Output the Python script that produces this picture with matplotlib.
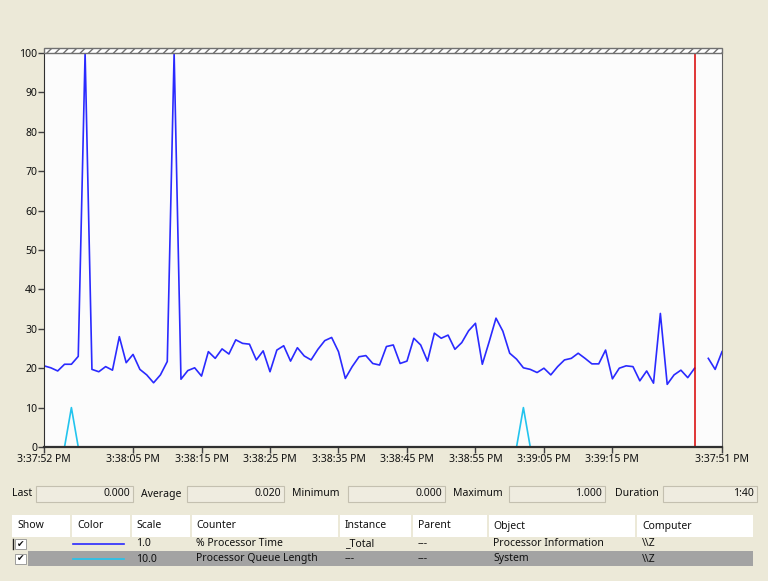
import numpy as np
import matplotlib.pyplot as plt
from matplotlib.patches import Rectangle

W, H = 768, 581

# % Processor Time, one sample per second (nan = gap after the "now" marker)
cpu_time = [20.6, 20.1, 19.3, 21.0, 21.0, 23.0, 100, 19.7, 19.1, 20.4,
            19.5, 28.0, 21.4, 23.5, 19.7, 18.3, 16.3, 18.3, 21.7, 100,
            17.2, 19.4, 20.1, 18.0, 24.2, 22.5, 24.9, 23.6, 27.2, 26.3,
            26.1, 22.1, 24.4, 19.1, 24.6, 25.7, 21.8, 25.2, 23.1, 22.1,
            24.8, 27.0, 27.8, 24.2, 17.4, 20.4, 22.9, 23.2, 21.2, 20.8,
            25.5, 25.9, 21.2, 21.8, 27.6, 25.9, 21.8, 28.9, 27.6, 28.4,
            24.8, 26.5, 29.5, 31.4, 21.0, 26.7, 32.7, 29.4, 23.8, 22.3,
            20.1, 19.7, 18.9, 20.0, 18.3, 20.4, 22.1, 22.5, 23.8, 22.5,
            21.1, 21.1, 24.6, 17.3, 20.0, 20.6, 20.4, 16.8, 19.3, 16.2,
            33.9, 15.9, 18.3, 19.5, 17.6, 20.0, np.nan, 22.5, 19.7, 24.2]

# Processor Queue Length
queue_len = [0] * 100
queue_len[4] = 1
queue_len[70] = 1
queue_len[96] = np.nan

now_idx = 95
tick_pos = [0, 13, 23, 33, 43, 53, 63, 73, 83, 99]
tick_labels = ["3:37:52 PM", "3:38:05 PM", "3:38:15 PM", "3:38:25 PM", "3:38:35 PM",
               "3:38:45 PM", "3:38:55 PM", "3:39:05 PM", "3:39:15 PM", "3:37:51 PM"]

stat_names = ["Last", "Average", "Minimum", "Maximum", "Duration"]
stat_values = ["0.000", "0.020", "0.000", "1.000", "1:40"]

columns = ["Show", "Color", "Scale", "Counter", "Instance", "Parent", "Object", "Computer"]
scales = [1.0, 10.0]
counters = ["% Processor Time", "Processor Queue Length"]
instances = ["_Total", "---"]
parents = ["---", "---"]
objects = ["Processor Information", "System"]
computers = ["\\\\Z", "\\\\Z"]
line_colors = ["#2a2aff", "#22c4ee"]

plt.rcParams['font.family'] = ['Noto Sans', 'DejaVu Sans']
BG = '#ece9d8'
TXT = '#101010'


def fx(x):
    return x / W


def fy(y):
    return 1 - y / H


fig = plt.figure(figsize=(W / 100, H / 100), dpi=100, facecolor=BG)
ax = fig.add_axes([fx(44), fy(447), 678 / W, 394 / H])
ax.set_facecolor('#fcfcfc')

x = np.arange(len(cpu_time))
ax.plot(x, np.array(queue_len, dtype=float) * scales[1], color=line_colors[1], lw=1.2, zorder=1)
ax.plot(x, np.array(cpu_time) * scales[0], color=line_colors[0], lw=1.2, zorder=3)
ax.axvline(now_idx, color='#d80000', lw=1.1, zorder=4)

ax.set_xlim(0, 99)
ax.set_ylim(0, 100)
ax.set_yticks(range(0, 101, 10))
ax.set_xticks(tick_pos)
ax.set_xticklabels(tick_labels)
ax.tick_params(axis='both', direction='out', length=4, width=1, color='#404040',
               labelsize=7.5, labelcolor=TXT, pad=1)
for s in ['left', 'bottom']:
    ax.spines[s].set_color('#303030')
    ax.spines[s].set_zorder(5)
ax.spines['bottom'].set_linewidth(1.6)
ax.spines['right'].set_color('#606060')
ax.spines['top'].set_visible(False)

# hatched bar on top of the graph
fig.patches.append(Rectangle((fx(44), fy(53)), 678 / W, 5 / H, transform=fig.transFigure,
                             facecolor='white', edgecolor='#707070', hatch='////', lw=1))

# stats row
label_x = [12, 141, 292, 453, 615]
box_x = [(36, 133), (187, 284), (348, 445), (509, 605), (663, 757)]
for name, val, lx, (b0, b1) in zip(stat_names, stat_values, label_x, box_x):
    fig.text(fx(lx), fy(494), name, fontsize=7.5, color=TXT, va='center')
    fig.patches.append(Rectangle((fx(b0), fy(502)), (b1 - b0) / W, 16 / H,
                                 transform=fig.transFigure, facecolor='#efece0',
                                 edgecolor='#c4c0b0', lw=0.8))
    fig.text(fx(b1 - 3), fy(494), val, fontsize=7.5, color=TXT, va='center', ha='right')

# counter table
col_x = [17, 77, 136, 196, 345, 418, 493, 642]
sep_x = [70, 130, 190, 338, 411, 487, 635]
fig.patches.append(Rectangle((fx(12), fy(537)), 741 / W, 22 / H, transform=fig.transFigure,
                             facecolor='white', edgecolor='none'))
for sx in sep_x:
    fig.patches.append(Rectangle((fx(sx), fy(537)), 2 / W, 22 / H, transform=fig.transFigure,
                                 facecolor=BG, edgecolor='none'))
for c, cx in zip(columns, col_x):
    fig.text(fx(cx), fy(526), c, fontsize=7.5, color=TXT, va='center')

# selected row highlight
fig.patches.append(Rectangle((fx(28), fy(566)), 725 / W, 15 / H, transform=fig.transFigure,
                             facecolor='#a3a3a3', edgecolor='none'))

row_y = [544, 559]
for i, ry in enumerate(row_y):
    fig.patches.append(Rectangle((fx(15), fy(ry + 5)), 11 / W, 10 / H, transform=fig.transFigure,
                                 facecolor='white', edgecolor='#909090', lw=0.6))
    fig.text(fx(20.5), fy(ry), "\u2714", fontsize=6.5, color='#101010', va='center', ha='center',
             family='DejaVu Sans')
    fig.lines.append(plt.Line2D([fx(73), fx(124)], [fy(ry), fy(ry)], transform=fig.transFigure,
                                color=line_colors[i], lw=1.2))
    vals = [f"{scales[i]:.1f}", counters[i], instances[i], parents[i], objects[i], computers[i]]
    for v, cx in zip(vals, col_x[2:]):
        fig.text(fx(cx), fy(ry), v, fontsize=7.5, color=TXT, va='center')
fig.lines.append(plt.Line2D([fx(13), fx(13)], [fy(539), fy(549)], transform=fig.transFigure,
                            color='#202020', lw=1))

fig.savefig("out.png", dpi=100, facecolor=BG)
